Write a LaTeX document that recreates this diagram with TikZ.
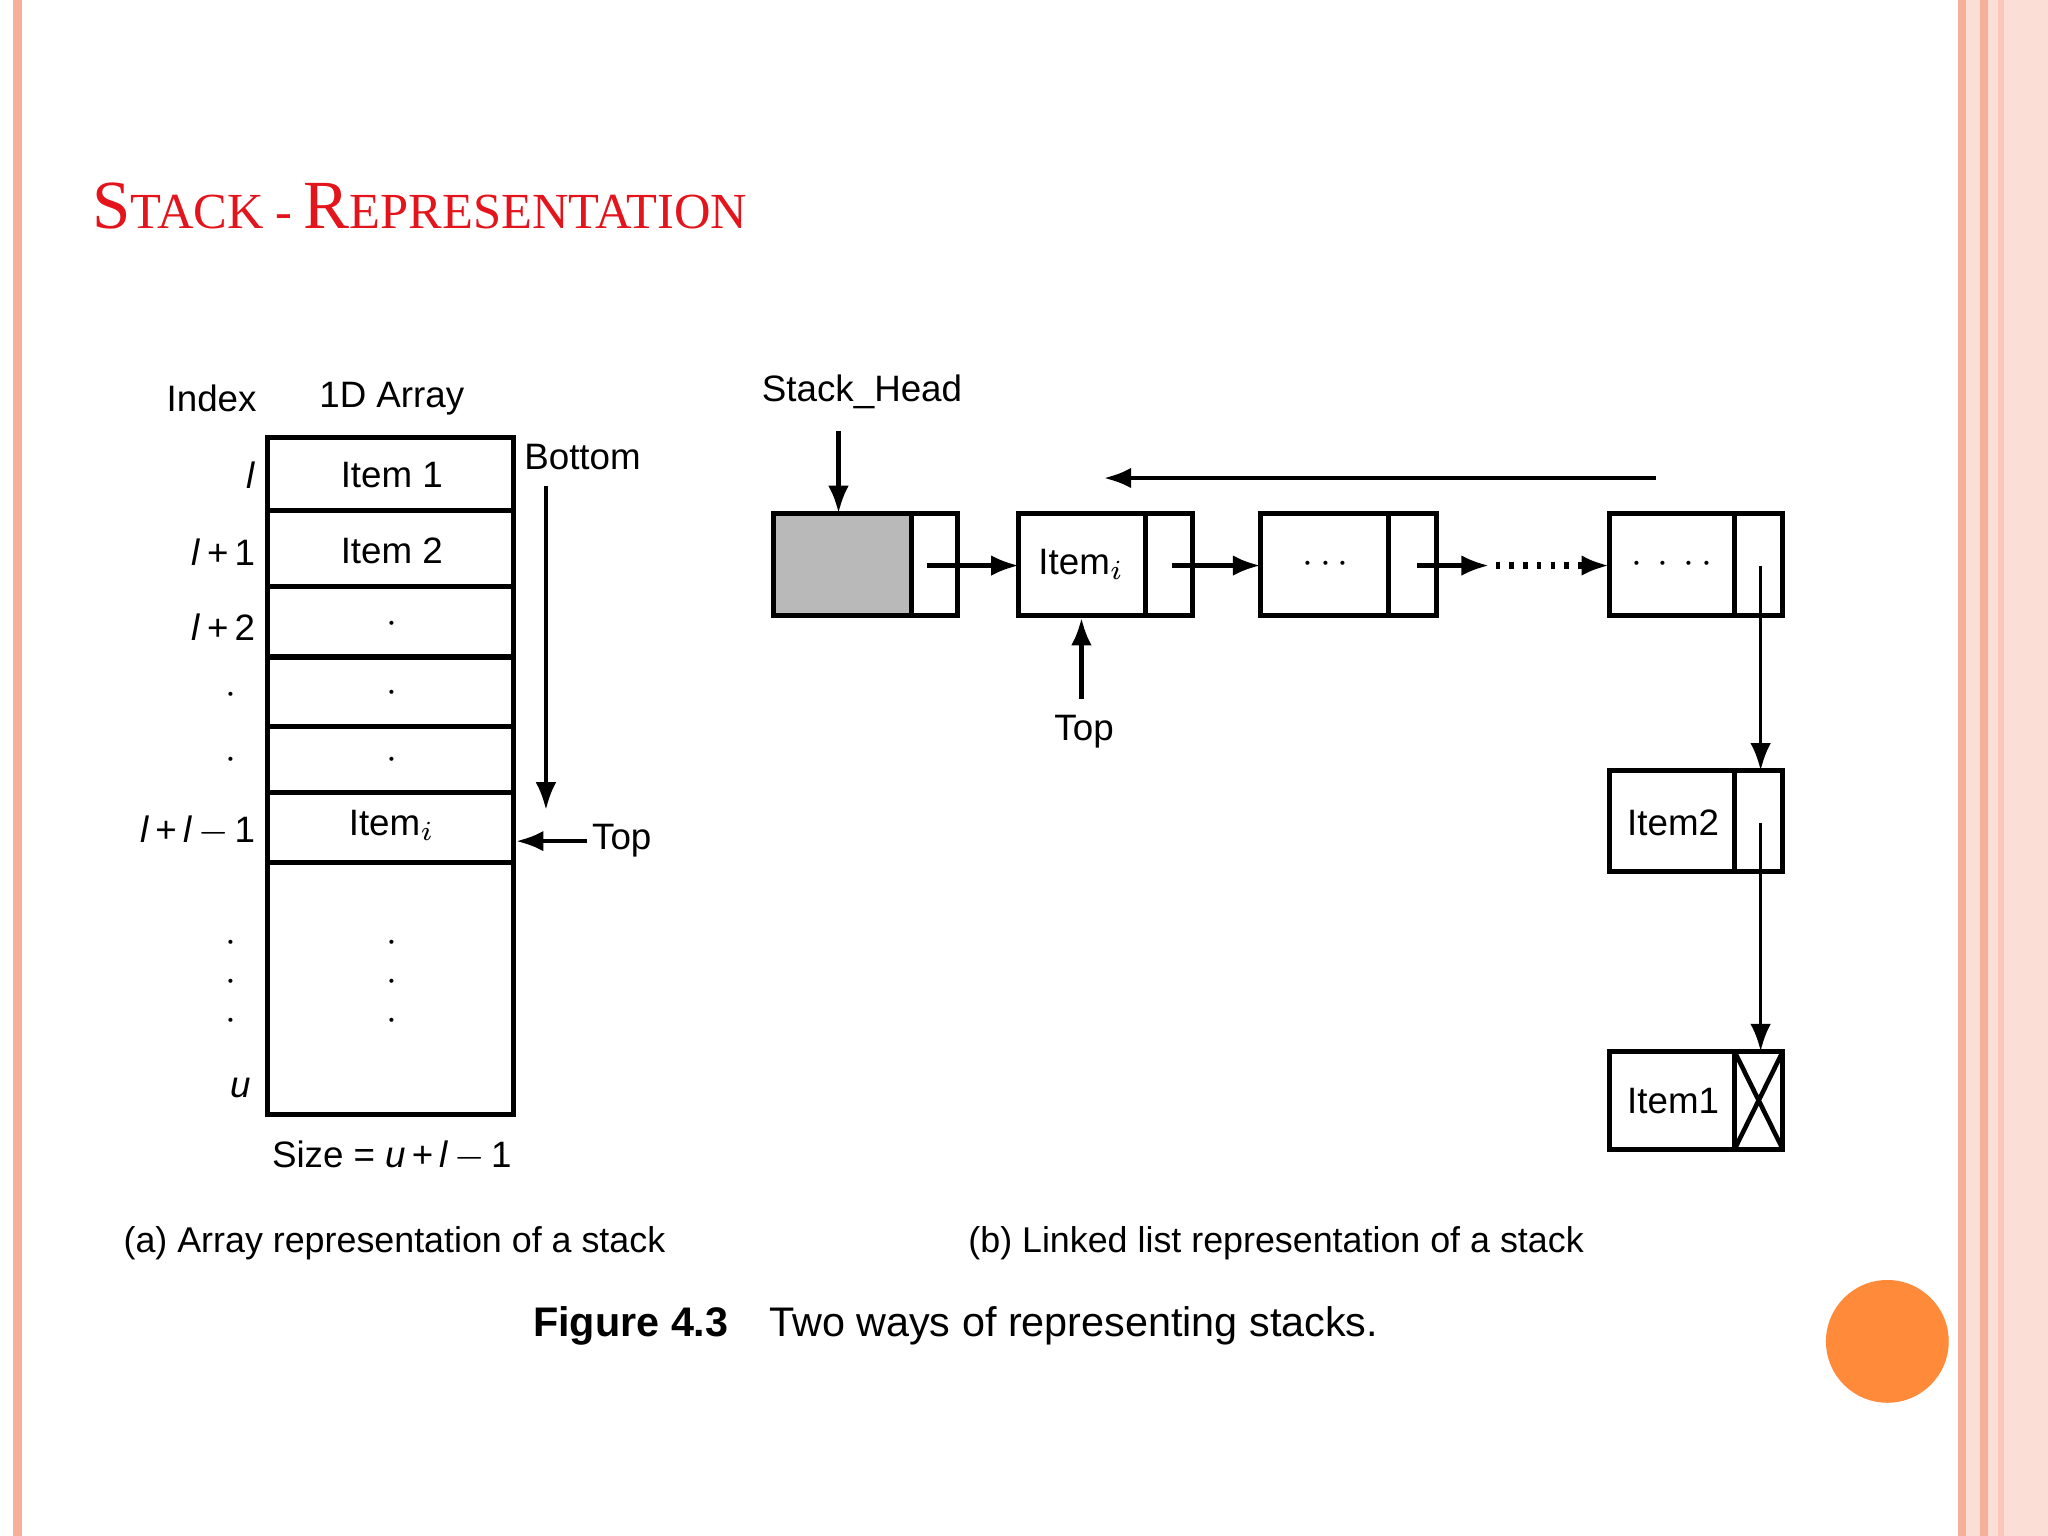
\documentclass[tikz,border=0pt]{standalone}
\usepackage{fontspec}
\setmainfont{Liberation Sans}
\newfontfamily\titlefont{Liberation Serif}
\usetikzlibrary{arrows.meta}
\definecolor{salmon}{HTML}{F6B09A}
\definecolor{titlered}{HTML}{E3141B}
\definecolor{dot}{HTML}{FF8A3A}
\newcommand{\bigc}[1]{{\fontsize{15}{18}\selectfont #1}}
\newcommand{\smc}[1]{{\fontsize{11}{18}\selectfont #1}}
\begin{document}
\begin{tikzpicture}[x=0.01cm,y=-0.01cm,
  box/.style={draw,line width=1.1pt},
  arr/.style={line width=1pt,-{Latex[length=6pt,width=4.5pt]}},
  lbl/.style={font=\fontsize{8}{10}\selectfont,inner sep=0pt},
  captxt/.style={font=\fontsize{7.8}{10}\selectfont,inner sep=0pt}]
\useasboundingbox (0,0) rectangle (1568,1176);
\fill[white] (0,0) rectangle (1568,1176);
% borders
\fill[salmon] (10,0) rectangle (17,1176);
\fill[salmon] (1499,0) rectangle (1505,1176);
\fill[salmon!40] (1505,0) rectangle (1568,1176);
\fill[salmon] (1516,0) rectangle (1522,1176);
\fill[salmon!70] (1530,0) rectangle (1534,1176);
\node[anchor=base west,text=titlered,inner sep=0pt,font=\titlefont] (title) at (70,175) {\bigc{S}\smc{TACK} \smc{-} \bigc{R}\smc{EPRESENTATION}};
\fill[dot] (1445,1027) circle (47);
% left array
\node[lbl] (hidx) at (162,305) {Index};
\node[lbl] (harr) at (300,305) {1D Array};
\draw[box] (205,335) rectangle (393,853);
\foreach \y in {391,449,503,556,607,660} \draw[box] (205,\y) -- (393,\y);
\node[lbl] (c1) at (300,364) {Item 1};
\node[lbl] (c2) at (300,422) {Item 2};
\node[lbl] (c3) at (300,478) {$\cdot$};
\node[lbl] (c4) at (300,531) {$\cdot$};
\node[lbl] (c5) at (300,582) {$\cdot$};
\node[lbl] (c6) at (300,632) {Item$_i$};
\node[lbl] (c7) at (300,722) {$\cdot$};
\node[lbl] (c8) at (300,752) {$\cdot$};
\node[lbl] (c9) at (300,782) {$\cdot$};
\node[lbl,anchor=east] (i1) at (196,364) {\textit{l}};
\node[lbl,anchor=east] (i2) at (196,423) {\textit{l}\,+\,1};
\node[lbl,anchor=east] (i3) at (196,480) {\textit{l}\,+\,2};
\node[lbl,anchor=east] (i4) at (182,532) {$\cdot$};
\node[lbl,anchor=east] (i5) at (182,582) {$\cdot$};
\node[lbl,anchor=east] (i6) at (196,636) {\textit{l}\,+\,\textit{l}\,$-$\,1};
\node[lbl,anchor=east] (i7) at (182,722) {$\cdot$};
\node[lbl,anchor=east] (i8) at (182,752) {$\cdot$};
\node[lbl,anchor=east] (i9) at (182,782) {$\cdot$};
\node[lbl,anchor=east] (i10) at (193,833) {\textit{u}};
\node[lbl] (bot) at (446,350) {Bottom};
\coordinate (b1) at (418,372);
\coordinate (b2) at (418,620);
\draw[arr,line width=0.8pt] (b1) -- (b2);
\node[lbl] (top1) at (476,644) {Top};
\coordinate (t1) at (395,644);
\draw[arr] (top1.west) ++(-3,0) -- (t1);
\node[lbl] (size) at (300,885) {Size = \textit{u}\,+\,\textit{l}\,$-$\,1};
\node[captxt] (capa) at (302,952) {(a) Array representation of a stack};
% right linked list
\node[lbl] (sh) at (660,300) {Stack\_Head};
\fill[gray!55] (592,393) rectangle (698,471);
\draw[box] (592,393) rectangle (733,471); \draw[box] (698,393) -- (698,471);
\coordinate (hd) at (642,393);
\draw[arr] (642,330) -- (hd);
\draw[box] (780,393) rectangle (913,471); \draw[box] (877,393) -- (877,471);
\node[lbl] (n2) at (828,432) {Item$_i$};
\draw[box] (965,393) rectangle (1100,471); \draw[box] (1063,393) -- (1063,471);
\node[lbl] (n3) at (1015,432) {$\cdots$};
\draw[box] (1232,393) rectangle (1365,471); \draw[box] (1328,393) -- (1328,471);
\node[lbl] (n4) at (1280,432) {$\cdot\,\cdot\,\cdot\,\cdot$};
\draw[arr] (710,433) -- (780,433);
\draw[arr] (897,433) -- (965,433);
\draw[arr] (1085,433) -- (1140,433);
\draw[arr,dotted,line width=1.5pt] (1145,433) -- (1232,433);
\node[lbl] (top2) at (830,560) {Top};
\draw[arr] (828,535) -- (828,473);
\draw[arr] (1268,366) -- (845,366);
\draw[box] (1232,590) rectangle (1365,667); \draw[box] (1328,590) -- (1328,667);
\node[lbl] (m2) at (1281,630) {Item2};
\draw[box] (1232,805) rectangle (1365,880); \draw[box] (1328,805) -- (1328,880);
\node[lbl] (m1) at (1281,843) {Item1};
\draw[line width=1pt] (1328,805) -- (1365,880) (1328,880) -- (1365,805);
\draw[arr,line width=0.8pt] (1348,433) -- (1348,590);
\draw[arr,line width=0.8pt] (1348,630) -- (1348,805);
\node[captxt] (capb) at (977,952) {(b) Linked list representation of a stack};
\node[captxt,font=\bfseries\fontsize{9}{11}\selectfont] (fig) at (483,1015) {Figure 4.3};
\node[captxt,font=\fontsize{9}{11}\selectfont] (figt) at (822,1015) {Two ways of representing stacks.};
\end{tikzpicture}
\end{document}
